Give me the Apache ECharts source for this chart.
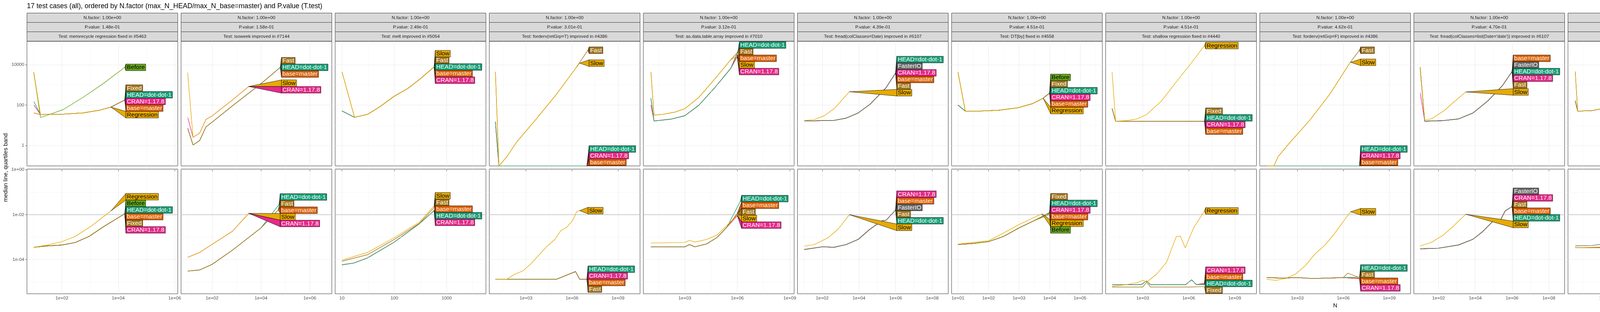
<!DOCTYPE html>
<html>
<head>
<meta charset="utf-8">
<script src="https://cdn.jsdelivr.net/npm/echarts@6/dist/echarts.min.js"></script>
<style>
  html, body { margin: 0; background: #fff; }
  #main { width: 6800px; height: 800px; }
</style>
</head>
<body>
<div id="main"></div>
<script>
// atime facet plot: one column per test case, top row kilobytes, bottom row seconds
// every point is [log10 N, log10 value]; NEG = zero kilobytes (ggplot puts -Inf on the panel edge)
var NEG = -Infinity;

var testNames = [
  "memrecycle regression fixed in #5463",
  "isoweek improved in #7144",
  "melt improved in #5054",
  "forderv(retGrp=T) improved in #4386",
  "as.data.table.array improved in #7010",
  "fread(colClasses=Date) improved in #6107",
  "DT[by] fixed in #4558",
  "shallow regression fixed in #4440",
  "forderv(retGrp=F) improved in #4386",
  "fread(colClasses=list(Date='date')) improved in #6107",
  "DT[,.SD] improved in #4501",
  "fread disk overhead improved in #6925",
  "transform improved in #5493",
  "fread(select=list(Date='date')) improved in #6107",
  "fwrite refactored in #6393",
  "setDT improved in #5427",
  "DT[by,verbose=TRUE] improved in #6296"
];
var nFactor = ["1.00e+00", "1.00e+00", "1.00e+00", "1.00e+00", "1.00e+00", "1.00e+00", "1.00e+00", "1.00e+00",
  "1.00e+00", "1.00e+00", "1.00e+00", "1.00e+00", "1.00e+00", "1.00e+00", "1.00e+00", "1.00e+00", "1.21e+00"];
var pValue = ["1.48e-01", "1.58e-01", "2.49e-01", "3.01e-01", "3.12e-01", "4.39e-01", "4.51e-01", "4.51e-01",
  "4.62e-01", "4.70e-01", "4.87e-01", "5.07e-01", "6.32e-01", "7.41e-01", "8.25e-01", "8.51e-01", "0.00e+00"];
var units = ["kilobytes", "seconds"];

// x scales (log10 N) per test case
var xLimits = [[0.76, 6.11], [0.73, 6.90], [0.87, 3.75], [0.60, 10.44], [0.63, 9.25], [0.65, 8.87], [0.79, 5.73],
  [0.58, 10.42], [0.55, 10.39], [0.66, 8.86], [0.52, 10.47], [-0.11, 2.83], [0.59, 9.25], [0.58, 8.91],
  [0.85, 4.15], [0.66, 8.10], [0.73, 6.51]];
var xBreaks = [[2, 4, 6], [2, 4, 6], [1, 2, 3], [3, 6, 9], [3, 6, 9], [2, 4, 6, 8], [1, 2, 3, 4, 5], [3, 6, 9],
  [3, 6, 9], [2, 4, 6, 8], [3, 6, 9], [0, 1, 2], [3, 6, 9], [2, 4, 6, 8], [1, 2, 3, 4], [2, 4, 6, 8], [2, 4, 6]];
var xTickLabels = [
  ["1e+02", "1e+04", "1e+06"], ["1e+02", "1e+04", "1e+06"], ["10", "100", "1000"],
  ["1e+03", "1e+06", "1e+09"], ["1e+03", "1e+06", "1e+09"], ["1e+02", "1e+04", "1e+06", "1e+08"],
  ["1e+01", "1e+02", "1e+03", "1e+04", "1e+05"], ["1e+03", "1e+06", "1e+09"], ["1e+03", "1e+06", "1e+09"],
  ["1e+02", "1e+04", "1e+06", "1e+08"], ["1e+03", "1e+06", "1e+09"], ["1", "10", "100"],
  ["1e+03", "1e+06", "1e+09"], ["1e+02", "1e+04", "1e+06", "1e+08"], ["10", "100", "1000", "10000"],
  ["1e+02", "1e+04", "1e+06", "1e+08"], ["1e+02", "1e+04", "1e+06"]
];
// y scales (log10 value) per row
var yLimits = [[-1.02, 5.16], [-5.52, 0.03]];
var yBreaks = [[0, 2, 4], [-4, -2, 0]];
var yTickLabels = [["1", "100", "10000"], ["1e-04", "1e-02", "1e+00"]];
var secondsLimit = -2;

// ---- 1 memrecycle
var kb01tail = [[1.24, 1.53], [2.05, 1.55], [2.75, 1.61], [3.32, 1.74], [3.74, 1.90]];
var kb01 = [
  ["Before", [[1.0, 3.63], [1.24, 1.38], [1.56, 1.53], [2.05, 1.78], [2.75, 2.38], [3.46, 3.06], [4.23, 3.87]]],
  ["Fixed", [[1.0, 3.63]].concat(kb01tail, [[4.23, 2.25]])],
  ["HEAD", [[1.0, 2.19]].concat(kb01tail, [[4.23, 2.25]])],
  ["CRAN", [[1.0, 2.01]].concat(kb01tail, [[4.23, 2.25]])],
  ["base", [[1.0, 1.61]].concat(kb01tail, [[4.23, 2.25]])],
  ["Regression", [[1.0, 3.63]].concat(kb01tail)]
];
var sec01path = [[1.0, -3.45], [1.49, -3.39], [2.0, -3.35], [2.47, -3.24], [2.96, -2.97], [3.46, -2.55], [3.95, -2.17], [4.23, -1.96]];
var sec01 = [
  ["Regression", [[1.0, -3.45], [1.49, -3.35], [2.0, -3.2], [2.47, -2.97], [3.04, -2.51], [3.74, -1.83]]],
  ["Before", sec01path], ["HEAD", sec01path], ["base", sec01path], ["Fixed", sec01path], ["CRAN", sec01path]
];

// ---- 2 isoweek
var kb02slow = [[1.22, 0.40], [1.49, 0.61], [1.75, 1.29], [2.0, 1.46], [2.83, 2.25], [3.5, 2.92]];
var kb02fast = [[1.0, 0.85], [1.22, 0.02], [1.49, 0.24], [1.75, 0.92], [2.0, 1.15], [2.83, 1.96], [4.0, 3.06], [4.79, 3.87]];
var kb02 = [
  ["Fast", kb02fast], ["HEAD", kb02fast], ["base", kb02fast],
  ["Slow", [[1.0, 3.60]].concat(kb02slow)], ["CRAN", [[1.0, 1.40]].concat(kb02slow)]
];
var sec02slow = [[1.0, -3.90], [1.49, -3.68], [2.0, -3.32], [2.83, -2.74], [3.5, -1.94]];
var sec02fast = [[1.0, -4.51], [1.49, -4.46], [2.0, -4.21], [2.83, -3.58], [4.0, -2.59]];
var sec02 = [
  ["HEAD", sec02fast.concat([[4.74, -1.55]])], ["Fast", sec02fast.concat([[4.71, -1.79]])],
  ["base", sec02fast.concat([[4.71, -1.79]])], ["Slow", sec02slow], ["CRAN", sec02slow]
];

// ---- 3 melt
var kb03path = [[1.24, 1.39], [1.49, 1.54], [1.72, 1.91], [2.0, 2.44], [2.25, 2.81], [2.48, 3.27], [2.76, 3.89]];
var kb03 = [
  ["Slow", [[1.0, 3.65]].concat(kb03path)], ["Fast", [[1.0, 3.65]].concat(kb03path)],
  ["HEAD", [[1.0, 1.71]].concat(kb03path)], ["base", [[1.0, 1.71]].concat(kb03path)], ["CRAN", [[1.0, 1.71]].concat(kb03path)]
];
var sec03path = [[1.0, -4.23], [1.23, -4.15], [1.49, -3.92], [2.0, -3.22], [2.48, -2.40], [2.76, -1.82]];
var sec03 = [
  ["Slow", [[1.0, -4.02], [1.49, -3.68], [2.0, -3.02], [2.48, -2.33], [2.76, -1.61]]],
  ["Fast", [[1.0, -4.07], [1.49, -3.78], [2.0, -3.10], [2.48, -2.38], [2.76, -1.69]]],
  ["base", sec03path], ["HEAD", sec03path], ["CRAN", sec03path]
];

// ---- 4 forderv(retGrp=T)
var kb04up = [[1.0, 3.65], [1.23, NEG], [1.75, -0.56], [2.4, 0.18], [3.57, 1.22], [5.0, 2.55], [6.18, 3.76]];
var kb04zero = [[1.0, 1.17], [1.23, NEG], [6.97, NEG]];
var kb04 = [
  ["Fast", kb04up.concat([[7.04, 4.72]])], ["Slow", kb04up.concat([[6.5, 4.08]])],
  ["HEAD", kb04zero], ["CRAN", kb04zero], ["base", kb04zero]
];
var sec04flat = [[1.0, -4.87], [3.0, -4.87], [5.0, -4.87], [6.23, -4.53], [6.5, -4.87], [6.97, -4.87]];
var sec04 = [
  ["Slow", [[1.0, -4.87], [1.75, -4.87], [2.27, -4.65], [2.8, -4.50], [3.31, -4.19], [3.83, -3.80], [4.36, -3.41],
    [4.88, -3.10], [5.27, -2.71], [5.66, -2.56], [6.05, -2.25], [6.31, -1.86], [6.5, -1.82]]],
  ["HEAD", sec04flat], ["CRAN", sec04flat], ["base", sec04flat], ["Fast", sec04flat]
];

// ---- 5 as.data.table.array
var kb05slow = [[1.06, 3.65], [1.24, 1.50], [1.75, 1.54], [2.43, 1.65], [3.0, 1.82], [3.8, 2.38], [4.71, 3.29], [5.62, 4.24]];
var kb05head = [[1.24, 1.21], [2.2, 1.30], [3.0, 1.47], [3.8, 1.99], [4.71, 2.86], [5.62, 3.81]];
var kb05 = [
  ["HEAD", [[1.06, 2.34]].concat(kb05head, [[6.05, 4.70]])],
  ["Fast", kb05slow.concat([[6.0, 4.60]])],
  ["base", [[1.06, 2.34]].concat(kb05head, [[6.0, 4.50]])],
  ["Slow", kb05slow.concat([[6.0, 4.45]])],
  ["CRAN", [[1.06, 2.0]].concat(kb05head, [[6.0, 4.40]])]
];
var sec05slow = [[1.06, -3.26], [3.0, -3.24], [3.27, -3.14], [3.57, -3.22], [4.25, -3.10], [4.83, -2.91], [5.4, -2.48], [6.0, -2.02]];
var sec05head = [[1.06, -3.43], [3.0, -3.43], [3.27, -3.33], [3.57, -3.43], [4.25, -3.30], [4.83, -3.02], [5.4, -2.56]];
var sec05 = [
  ["HEAD", sec05head.concat([[6.18, -1.40]])], ["base", sec05head.concat([[6.0, -1.94]])],
  ["Fast", sec05head.concat([[6.0, -1.97]])], ["Slow", sec05slow], ["CRAN", sec05head.concat([[6.0, -2.05]])]
];

// ---- 6 fread(colClasses=Date)
var kb06head = [[1.02, 1.21], [2.65, 1.24], [3.3, 1.35], [3.96, 1.61], [4.61, 2.04], [5.48, 2.86], [6.0, 3.59]];
var kb06 = [
  ["HEAD", kb06head], ["FasterIO", kb06head], ["CRAN", kb06head], ["base", kb06head], ["Fast", kb06head],
  ["Slow", [[1.02, 1.23], [1.57, 1.28], [2.11, 1.47], [2.65, 1.82], [3.48, 2.66]]]
];
var sec06head = [[1.02, -3.55], [2.0, -3.43], [2.65, -3.45], [3.3, -3.33], [3.96, -3.10], [4.61, -2.64], [5.26, -2.27], [5.48, -2.25], [6.0, -1.79]];
var sec06 = [
  ["CRAN", sec06head], ["base", sec06head], ["FasterIO", sec06head], ["Fast", sec06head], ["HEAD", sec06head],
  ["Slow", [[1.02, -3.40], [1.57, -3.33], [2.33, -3.02], [2.87, -2.64], [3.48, -2.0]]]
];

// ---- 7 DT[by]
var kb07path = [[1.24, 1.70], [1.68, 1.70], [2.33, 1.74], [2.98, 1.87], [3.46, 2.08], [3.79, 2.34]];
var kb07 = [
  ["Before", [[1.0, 3.63]].concat(kb07path, [[4.0, 2.59]])], ["Fixed", [[1.0, 3.63]].concat(kb07path, [[4.0, 2.59]])],
  ["HEAD", [[1.0, 2.0]].concat(kb07path, [[4.0, 2.59]])], ["CRAN", [[1.0, 2.0]].concat(kb07path, [[4.0, 2.59]])],
  ["base", [[1.0, 2.0]].concat(kb07path, [[4.0, 2.59]])], ["Regression", [[1.0, 3.63]].concat(kb07path)]
];
var sec07path = [[1.0, -3.33], [1.5, -3.28], [2.0, -3.20], [2.49, -2.97], [3.0, -2.59], [3.46, -2.29]];
var sec07 = [
  ["Fixed", sec07path.concat([[4.0, -1.90]])], ["HEAD", sec07path.concat([[4.0, -1.92]])],
  ["CRAN", sec07path.concat([[4.0, -1.93]])], ["base", sec07path.concat([[4.0, -1.94]])],
  ["Regression", [[1.0, -3.31], [2.0, -3.16], [2.49, -2.82], [3.0, -2.44], [3.75, -1.96]]],
  ["Before", sec07path.concat([[4.0, -1.99]])]
];

// ---- 8 shallow
var kb08flat = [[1.0, 1.83], [1.23, 1.20], [7.03, 1.20]];
var kb08 = [
  ["Regression", [[1.0, 3.63], [1.23, 1.20], [1.97, 1.23], [2.61, 1.31], [3.26, 1.53], [4.23, 2.21], [5.19, 3.15], [6.16, 4.08], [7.03, 4.95]]],
  ["Fixed", kb08flat], ["HEAD", kb08flat], ["CRAN", kb08flat], ["base", kb08flat]
];
var sec08flat = [[1.0, -5.11], [2.9, -5.11], [3.26, -4.95], [3.5, -5.11], [5.8, -5.11], [6.19, -4.9], [6.5, -5.11]];
var sec08 = [
  ["Regression", [[1.0, -5.19], [1.97, -5.11], [2.61, -5.03], [3.0, -4.92], [3.26, -5.0], [3.9, -4.65], [4.55, -4.12],
    [5.19, -2.97], [5.45, -2.95], [5.77, -3.47], [6.32, -2.59], [7.03, -1.83]]],
  ["CRAN", sec08flat.concat([[7.03, -5.05]])], ["base", sec08flat.concat([[7.03, -5.08]])],
  ["HEAD", sec08flat.concat([[7.03, -5.11]])],
  ["Fixed", [[1.0, -5.22], [3.0, -5.22], [3.26, -5.0], [3.5, -5.22], [6.0, -5.22], [7.03, -5.2]]]
];

// ---- 9 forderv(retGrp=F)
var kb09up = [[1.0, NEG], [1.48, NEG], [1.74, -0.56], [2.55, 0.17], [3.84, 1.27], [5.13, 2.55], [6.42, 4.08]];
var kb09zero = [[1.0, NEG], [7.06, NEG]];
var kb09 = [
  ["Fast", kb09up.concat([[7.06, 4.72]])], ["Slow", kb09up.concat([[6.48, 4.12]])],
  ["HEAD", kb09zero], ["CRAN", kb09zero], ["base", kb09zero]
];
var sec09flat = [[1.0, -4.80], [2.0, -4.82], [3.0, -4.80], [4.0, -4.84], [5.0, -4.82], [6.0, -4.8]];
var sec09 = [
  ["Slow", [[1.0, -4.88], [1.6, -4.92], [2.23, -4.84], [2.87, -4.65], [3.52, -4.27], [4.16, -3.74], [4.81, -3.35],
    [5.45, -2.82], [6.1, -2.21], [6.48, -1.87]]],
  ["HEAD", sec09flat.concat([[7.06, -4.78]])], ["Fast", sec09flat.concat([[6.3, -4.6], [7.06, -4.80]])],
  ["base", sec09flat.concat([[7.06, -4.83]])], ["CRAN", sec09flat.concat([[7.06, -4.85]])]
];

// ---- 10 fread(colClasses=list(Date='date'))
var kb10path = [[1.25, 1.20], [2.27, 1.23], [3.08, 1.31], [3.88, 1.61], [4.69, 2.21], [5.49, 2.98], [6.0, 3.66]];
var kb10 = [
  ["base", [[1.0, 3.87]].concat(kb10path)], ["FasterIO", [[1.0, 3.87]].concat(kb10path)],
  ["HEAD", [[1.0, 3.87]].concat(kb10path)], ["CRAN", [[1.0, 2.64]].concat(kb10path)],
  ["Fast", [[1.0, 3.87]].concat(kb10path)],
  ["Slow", [[1.0, 3.87], [1.25, 1.27], [1.6, 1.31], [2.27, 1.70], [2.81, 2.13], [3.48, 2.65]]]
];
var sec10path = [[1.0, -3.52], [2.0, -3.49], [3.08, -3.35], [3.88, -3.09], [4.42, -2.74], [4.96, -2.29], [5.36, -2.25], [5.63, -1.83], [6.0, -1.64]];
var sec10 = [
  ["FasterIO", sec10path], ["CRAN", sec10path], ["Fast", sec10path], ["base", sec10path], ["HEAD", sec10path],
  ["Slow", [[1.0, -3.39], [1.6, -3.24], [2.27, -2.90], [2.81, -2.51], [3.48, -1.98]]]
];

// ---- 11 DT[,.SD]
var kb11path = [[1.16, 1.70], [2.09, 1.72], [3.07, 1.87], [3.72, 2.13], [4.53, 2.59]];
var kb11up = kb11path.concat([[5.02, 3.06], [5.74, 3.66]]);
var kb11head = [[1.0, 2.21]].concat(kb11up, [[6.33, 4.25], [6.98, 4.94]]);
var kb11 = [
  ["base", kb11head], ["Fast", kb11head], ["HEAD", kb11head], ["CRAN", kb11head],
  ["Slow", [[1.0, 3.66]].concat(kb11up)],
  ["Slower", [[1.0, 3.66], [1.16, 1.70], [2.09, 1.72], [3.07, 1.87], [3.72, 2.13], [4.53, 2.62]]]
];
var sec11path = [[1.0, -3.47], [3.07, -3.47], [4.7, -3.35], [5.35, -3.12], [6.0, -2.59]];
var sec11 = [
  ["Slow", [[1.0, -3.47], [3.07, -3.43], [4.37, -3.32], [5.02, -3.05], [5.74, -1.67]]],
  ["Fast", sec11path.concat([[6.49, -1.75]])], ["HEAD", sec11path.concat([[6.49, -1.80]])],
  ["base", sec11path.concat([[6.49, -1.85]])], ["CRAN", sec11path.concat([[6.49, -1.90]])],
  ["Slower", [[1.0, -3.39], [2.09, -3.37], [2.74, -3.32], [3.39, -3.12], [4.53, -1.99]]]
];

// ---- 12 fread disk overhead
var kb12path = [[0.0, 1.27], [0.28, 1.57], [0.82, 2.21], [1.51, 2.76]];
var kb12 = [
  ["HEAD", kb12path.concat([[1.83, 3.08]])], ["Fast", kb12path.concat([[1.83, 3.08]])],
  ["base", kb12path.concat([[1.83, 3.08]])],
  ["Slow", [[0.0, 3.62], [0.28, 1.57], [0.82, 2.21], [1.51, 2.76]]],
  ["CRAN", [[0.0, 1.27], [0.28, 1.57], [0.82, 2.21], [1.51, 2.74]]]
];
var sec12path = [[0.0, -3.47], [1.51, -1.98]];
var sec12 = [
  ["base", sec12path.concat([[1.83, -1.71]])], ["HEAD", sec12path.concat([[1.83, -1.71]])],
  ["Fast", sec12path.concat([[1.83, -1.71]])], ["CRAN", sec12path], ["Slow", sec12path]
];

// ---- 13 transform
var kb13path = [[1.0, 1.29], [1.15, 1.23], [1.86, 1.23], [2.43, 1.27], [3.0, 1.40], [3.57, 1.70], [4.14, 2.21], [4.99, 3.15], [5.84, 4.08], [6.27, 4.47]];
var kb13 = [
  ["Fast", kb13path], ["HEAD", kb13path], ["CRAN", kb13path], ["base", kb13path],
  ["Slow", [[1.0, 3.66], [1.15, 1.23], [1.86, 1.27], [2.43, 1.40], [3.0, 1.61], [3.57, 1.95], [4.0, 2.42]]]
];
var sec13path = [[1.0, -4.46], [2.14, -4.42], [3.0, -4.35], [3.57, -4.12], [4.14, -3.58], [4.7, -2.82], [5.27, -2.13], [5.84, -2.0]];
var sec13 = [
  ["Slow", [[1.0, -3.60], [1.86, -3.55], [2.43, -3.43], [3.0, -3.13], [3.57, -2.52], [4.0, -1.81]]],
  ["HEAD", sec13path.concat([[6.12, -1.83]])], ["CRAN", sec13path.concat([[6.12, -1.86]])],
  ["base", sec13path.concat([[6.12, -1.89]])], ["Fast", sec13path.concat([[6.12, -1.92]])]
];

// ---- 14 fread(select=list(Date='date'))
var kb14path = [[1.0, 1.20], [2.6, 1.23], [3.42, 1.31], [4.24, 1.61], [5.06, 2.21], [5.74, 2.98], [6.1, 3.62]];
var kb14 = [
  ["HEAD", kb14path], ["FasterIO", kb14path], ["CRAN", kb14path], ["base", kb14path], ["Fast", kb14path],
  ["Slow", [[1.0, 1.23], [1.52, 1.29], [2.05, 1.49], [2.6, 1.87], [3.5, 2.65]]]
];
var sec14path = [[1.0, -3.55], [2.0, -3.45], [3.15, -3.42], [3.7, -3.28], [4.24, -3.05], [4.79, -2.59], [5.33, -2.25], [5.74, -1.98], [6.0, -1.64]];
var sec14 = [
  ["CRAN", sec14path], ["base", sec14path], ["HEAD", sec14path], ["FasterIO", sec14path], ["Fast", sec14path],
  ["Slow", [[1.0, -3.39], [2.0, -3.24], [2.6, -2.97], [3.5, -1.98]]]
];

// ---- 15 fwrite
var kb15flat = [[1.0, -0.13], [1.22, -0.13], [3.0, -0.13]];
var kb15 = [
  ["PR", [[1.0, 3.62], [1.22, -0.13], [3.0, -0.13]]], ["HEAD", kb15flat], ["base", kb15flat], ["CRAN", kb15flat],
  ["Before", [[1.0, 2.13], [1.22, NEG], [3.0, NEG]]]
];
var sec15path = [[1.0, -3.52], [1.22, -3.51], [1.52, -3.32], [2.0, -2.97], [2.5, -2.44], [3.0, -1.83]];
var sec15 = [["PR", sec15path], ["CRAN", sec15path], ["HEAD", sec15path], ["base", sec15path], ["Before", sec15path]];

// ---- 16 setDT
var kb16 = [
  ["HEAD", [[1.02, 1.91], [1.2, NEG], [1.76, -0.26], [2.61, 0.51], [4.0, 1.70], [5.54, 3.85]]],
  ["CRAN", [[1.02, 1.91], [1.2, NEG], [1.76, -0.26], [2.61, 0.51], [4.0, 1.70], [5.54, 3.75]]],
  ["base", [[1.02, 1.91], [1.2, NEG], [1.49, NEG], [1.76, -0.6], [2.61, 0.17], [4.0, 1.27], [5.54, 3.3]]],
  ["Fast", [[1.02, 1.91], [1.2, NEG], [1.49, NEG], [1.76, -0.6], [2.61, 0.17], [4.0, 1.27], [5.54, 3.06]]],
  ["Slow", [[1.02, 3.62], [1.22, -0.73], [1.46, -0.51], [1.76, 0.25], [2.61, 1.27], [4.0, 2.45]]]
];
var sec16path = [[1.02, -4.58], [1.61, -4.58], [2.37, -4.50], [2.85, -4.27], [3.59, -3.89], [4.32, -3.35], [5.05, -2.59]];
var sec16 = [
  ["Fast", sec16path.concat([[5.54, -1.80]])], ["CRAN", sec16path.concat([[5.54, -1.84]])],
  ["base", sec16path.concat([[5.54, -1.88]])], ["HEAD", sec16path.concat([[5.54, -1.92]])],
  ["Slow", [[1.02, -4.27], [1.46, -4.12], [2.0, -3.89], [2.85, -3.28], [4.0, -1.94]]]
];

// ---- 17 DT[by,verbose=TRUE]
var kb17path = [[1.0, 1.74], [1.22, 1.52], [2.0, 1.55], [2.51, 1.65], [3.01, 1.82], [3.5, 2.02], [4.0, 2.43]];
var kb17 = [
  ["Fast", kb17path.concat([[4.53, 2.88]])], ["HEAD", kb17path.concat([[4.53, 2.88]])],
  ["base", kb17path.concat([[4.25, 2.66]])], ["CRAN", kb17path.concat([[4.25, 2.66]])],
  ["Slow", [[1.0, 3.59], [1.22, 1.52], [2.0, 1.55], [2.51, 1.65], [3.01, 1.82], [3.5, 2.02]]]
];
var sec17path = [[1.0, -3.0], [1.31, -2.98], [2.0, -2.96], [2.51, -2.86], [3.01, -2.71], [3.26, -2.59], [3.5, -2.55], [3.75, -2.31], [4.0, -2.24], [4.2, -2.01]];
var sec17 = [
  ["HEAD", sec17path.concat([[4.28, -1.90]])], ["Fast", sec17path.concat([[4.28, -1.93]])],
  ["CRAN", sec17path.concat([[4.28, -1.95]])], ["base", sec17path.concat([[4.28, -1.97]])],
  ["Slow", [[1.0, -2.96], [1.22, -2.98], [2.0, -2.86], [2.51, -2.63], [3.01, -2.32], [3.5, -1.97]]]
];

var kbPanels = [kb01, kb02, kb03, kb04, kb05, kb06, kb07, kb08, kb09, kb10, kb11, kb12, kb13, kb14, kb15, kb16, kb17];
var secPanels = [sec01, sec02, sec03, sec04, sec05, sec06, sec07, sec08, sec09, sec10, sec11, sec12, sec13, sec14, sec15, sec16, sec17];

// ---------------------------------------------------------------- styling
var FONT = '"Liberation Sans", Arial, Helvetica, sans-serif';
var LABEL_FONT = '15.5px ' + FONT;
var LABEL_H = 17;
var versionText = { HEAD: "HEAD=dot-dot-1", base: "base=master", CRAN: "CRAN=1.17.8" };
var versionColor = {
  HEAD: "#1B9E77", base: "#D95F02", CRAN: "#E7298A", Before: "#66A61E",
  Regression: "#E6AB02", Slow: "#E6AB02", Fixed: "#A6761D", Fast: "#A6761D",
  FasterIO: "#666666", Slower: "#666666", PR: "#666666"
};
var darkText = { Before: true, Regression: true, Slow: true };
var drawRank = { CRAN: 0, base: 1, HEAD: 2, Before: 3, Fixed: 4, Fast: 4, FasterIO: 5, Slower: 5, PR: 5, Regression: 6, Slow: 6 };

var PANEL_LEFT = 69, PANEL_STEP = 394.5, PANEL_W = 386;
var ROW_TOP = [106, 433.5], ROW_H = [319.5, 319.8];

var measure = document.createElement("canvas").getContext("2d");
measure.font = LABEL_FONT;

function minorBreaks(breaks, lim) {
  var step = breaks[1] - breaks[0], out = [];
  for (var v = breaks[0] - step / 2; v <= lim[1] + 1e-9; v += step) {
    if (v >= lim[0] - 1e-9) out.push(v);
  }
  return out;
}

function pickLabel(breaks, labels) {
  return function (v) {
    for (var i = 0; i < breaks.length; i++) {
      if (Math.abs(breaks[i] - v) < 1e-6) return labels[i];
    }
    return "";
  };
}

// direct labels: boxes at the right of the longest line, kept in order and pushed apart
function labelRenderer(panel, yFloor) {
  return function (params, api) {
    var box = params.coordSys;
    var H = LABEL_H;
    var items = panel.map(function (v, i) {
      var last = v[1][v[1].length - 1];
      var tip = api.coord([last[0], last[1] === NEG ? yFloor : last[1]]);
      return { name: v[0], tip: tip, order: i, y: tip[1] };
    });
    var xL = Math.max.apply(null, items.map(function (d) { return d.tip[0]; })) + 3;
    items.sort(function (a, b) { return (a.y - b.y) || (a.order - b.order); });

    var blocks = [];
    items.forEach(function (it) {
      blocks.push({ n: 1, sum: it.y, items: [it] });
      while (blocks.length > 1) {
        var p = blocks[blocks.length - 2], q = blocks[blocks.length - 1];
        if (p.sum / p.n + p.n * H <= q.sum / q.n) break;
        p.sum = p.sum + q.sum - q.n * p.n * H;
        p.n += q.n;
        p.items = p.items.concat(q.items);
        blocks.pop();
      }
    });
    blocks.forEach(function (b) {
      var s = b.sum / b.n;
      b.items.forEach(function (it, k) { it.cy = s + k * H; });
    });
    var lo = box.y + H / 2 + 1, hi = box.y + box.height - H / 2 - 1;
    for (var i = 0; i < items.length; i++) {
      items[i].cy = Math.max(items[i].cy, i ? items[i - 1].cy + H : lo);
    }
    for (var j = items.length - 1; j >= 0; j--) {
      items[j].cy = Math.min(items[j].cy, j < items.length - 1 ? items[j + 1].cy - H : hi);
    }

    var pointers = [], boxes = [];
    items.forEach(function (it) {
      var col = versionColor[it.name];
      var txt = versionText[it.name] || it.name;
      var top = it.cy - H / 2;
      pointers.push({
        type: "polygon",
        shape: { points: [it.tip, [xL, top], [xL, top + H]] },
        style: { fill: col, stroke: "#000", lineWidth: 0.8 }
      });
      boxes.push({
        type: "rect",
        shape: { x: xL, y: top, width: measure.measureText(txt).width + 5, height: H },
        style: { fill: col, stroke: "#000", lineWidth: 0.8 }
      });
      boxes.push({
        type: "text",
        style: { x: xL + 2.5, y: it.cy + 0.5, text: txt, font: LABEL_FONT, fill: darkText[it.name] ? "#000" : "#fff", align: "left", verticalAlign: "middle" }
      });
    });
    return { type: "group", children: pointers.concat(boxes) };
  };
}

var grids = [], xAxes = [], yAxes = [], series = [], graphics = [];

[kbPanels, secPanels].forEach(function (panels, r) {
  panels.forEach(function (panel, c) {
    var g = grids.length;
    var yFloor = yLimits[r][0];
    grids.push({
      left: PANEL_LEFT + c * PANEL_STEP, top: ROW_TOP[r], width: PANEL_W, height: ROW_H[r],
      show: true, borderColor: "#333333", borderWidth: 1, backgroundColor: "#fff"
    });
    xAxes.push({
      type: "value", gridIndex: g, min: xLimits[c][0], max: xLimits[c][1],
      axisLine: { show: false },
      axisTick: { show: r === 1, length: 3.7, customValues: xBreaks[c], lineStyle: { color: "#333333" } },
      axisLabel: {
        show: r === 1, customValues: xBreaks[c], formatter: pickLabel(xBreaks[c], xTickLabels[c]),
        fontSize: 11.7, color: "#4D4D4D", fontFamily: FONT, margin: 5.5
      },
      splitLine: { show: true, lineStyle: { color: "#EBEBEB", width: 1.1 } }
    });
    yAxes.push({
      type: "value", gridIndex: g, min: yLimits[r][0], max: yLimits[r][1],
      axisLine: { show: false },
      axisTick: { show: c === 0, length: 3.7, customValues: yBreaks[r], lineStyle: { color: "#333333" } },
      axisLabel: {
        show: c === 0, customValues: yBreaks[r], formatter: pickLabel(yBreaks[r], yTickLabels[r]),
        fontSize: 11.7, color: "#4D4D4D", fontFamily: FONT, margin: 7
      },
      splitLine: { show: true, lineStyle: { color: "#EBEBEB", width: 1.1 } }
    });

    // minor grid + time limit line
    var guides = minorBreaks(xBreaks[c], xLimits[c]).map(function (v) { return { xAxis: v }; })
      .concat(minorBreaks(yBreaks[r], yLimits[r]).map(function (v) { return { yAxis: v }; }));
    if (r === 1) guides.push({ yAxis: secondsLimit, lineStyle: { color: "#BDBDBD", width: 1.3 } });
    series.push({
      type: "line", xAxisIndex: g, yAxisIndex: g, data: [[xLimits[c][0], yFloor]],
      showSymbol: false, symbol: "none", lineStyle: { opacity: 0 }, silent: true, z: 1,
      markLine: {
        silent: true, symbol: "none", animation: false, label: { show: false },
        lineStyle: { color: "#F2F2F2", width: 0.7, type: "solid" }, data: guides
      }
    });

    panel.slice().sort(function (a, b) { return drawRank[a[0]] - drawRank[b[0]]; }).forEach(function (v) {
      var col = versionColor[v[0]];
      series.push({
        type: "line", name: v[0], xAxisIndex: g, yAxisIndex: g,
        data: v[1].map(function (p) { return [p[0], p[1] === NEG ? yFloor : p[1]]; }),
        showSymbol: false, symbol: "none", clip: true, silent: true, z: 2 + drawRank[v[0]],
        lineStyle: { color: col, width: 1.4 }, itemStyle: { color: col }
      });
    });

    series.push({
      type: "custom", xAxisIndex: g, yAxisIndex: g, data: [[xLimits[c][0], yFloor]],
      silent: true, clip: false, z: 30, renderItem: labelRenderer(panel, yFloor)
    });
  });
});

// facet strips on top
var stripTop = [33.5, 57.5, 81.5];
testNames.forEach(function (name, c) {
  var x = PANEL_LEFT + c * PANEL_STEP;
  var texts = ["N.factor: " + nFactor[c], "P.value: " + pValue[c], "Test: " + name];
  texts.forEach(function (t, k) {
    graphics.push({
      type: "rect", shape: { x: x, y: stripTop[k], width: PANEL_W, height: 24 },
      style: { fill: "#D9D9D9", stroke: "#333333", lineWidth: 1 }, silent: true
    });
    graphics.push({
      type: "text", x: x + PANEL_W / 2, y: stripTop[k] + 12.5, silent: true,
      style: { text: t, font: "11.7px " + FONT, fill: "#1A1A1A", align: "center", verticalAlign: "middle" }
    });
  });
});
// unit strips on the right
units.forEach(function (u, r) {
  var x = PANEL_LEFT + 16 * PANEL_STEP + PANEL_W + 1.5;
  graphics.push({
    type: "rect", shape: { x: x, y: ROW_TOP[r], width: 23.5, height: ROW_H[r] },
    style: { fill: "#D9D9D9", stroke: "#333333", lineWidth: 1 }, silent: true
  });
  graphics.push({
    type: "text", x: x + 12, y: ROW_TOP[r] + ROW_H[r] / 2, rotation: -Math.PI / 2, silent: true,
    style: { text: "unit: " + u, font: "11.7px " + FONT, fill: "#1A1A1A", align: "center", verticalAlign: "middle" }
  });
});
graphics.push({
  type: "text", x: 69, y: 16, silent: true,
  style: { text: "17 test cases (all), ordered by N.factor (max_N_HEAD/max_N_base=master) and P.value (T.test)",
    font: "17.6px " + FONT, fill: "#000", align: "left", verticalAlign: "middle" }
});
graphics.push({
  type: "text", x: PANEL_LEFT + (16 * PANEL_STEP + PANEL_W) / 2, y: 784, silent: true,
  style: { text: "N", font: "14.7px " + FONT, fill: "#000", align: "center", verticalAlign: "middle" }
});
graphics.push({
  type: "text", x: 15, y: (ROW_TOP[0] + ROW_TOP[1] + ROW_H[1]) / 2, rotation: Math.PI / 2, silent: true,
  style: { text: "median line, quartiles band", font: "14.7px " + FONT, fill: "#000", align: "center", verticalAlign: "middle" }
});

var chart = echarts.init(document.getElementById("main"));
chart.setOption({
  animation: false,
  backgroundColor: "#fff",
  grid: grids,
  xAxis: xAxes,
  yAxis: yAxes,
  series: series,
  graphic: graphics
});
</script>
</body>
</html>
